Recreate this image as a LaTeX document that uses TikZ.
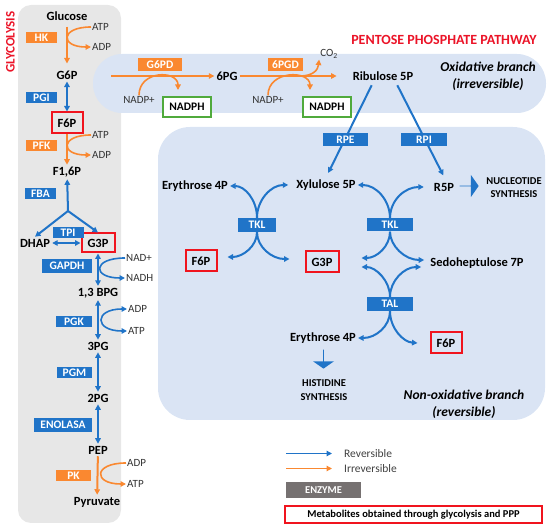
\documentclass[tikz,border=0pt]{standalone}
\usepackage{fontspec}
\setmainfont{Carlito}
\usetikzlibrary{arrows.meta,calc,shapes.arrows}
\definecolor{glyc}{RGB}{231,231,231}
\definecolor{pppbg}{RGB}{218,228,244}
\definecolor{enzblue}{RGB}{32,116,200}
\definecolor{enzorange}{RGB}{250,136,48}
\definecolor{boxred}{RGB}{240,20,30}
\definecolor{titlered}{RGB}{235,20,40}
\definecolor{nadgreen}{RGB}{80,170,60}
\definecolor{legendgray}{RGB}{118,113,113}

\begin{document}
\begin{tikzpicture}[x=1pt,y=-1pt,
    >={Triangle[length=5.5pt,width=5.5pt]},
    met/.style={font={\fontsize{12.5}{13}\selectfont\bfseries},inner sep=2pt},
    cof/.style={font={\fontsize{11}{12}\selectfont},text=black!80,inner sep=1pt,anchor=west},
    enz/.style={fill=enzblue,text=white,font={\fontsize{11.5}{12}\selectfont\bfseries},inner sep=0pt,minimum width=31pt,minimum height=11pt},
    enzo/.style={enz,fill=enzorange},
    obtained/.style={draw=boxred,line width=2pt,minimum width=31pt,minimum height=21pt},
    nadph/.style={draw=nadgreen,fill=white,line width=2pt,inner sep=0pt,minimum width=48pt,minimum height=20pt,font={\fontsize{11.5}{12}\selectfont\bfseries}},
    rev/.style={enzblue,line width=2pt},
    irr/.style={enzorange,line width=2pt},
    side/.style={line width=1.6pt},
    note/.style={align=center,font={\fontsize{10.5}{13.5}\selectfont\bfseries}},
    branch/.style={align=center,font={\fontsize{13.5}{17}\selectfont\bfseries\itshape}}]
      \useasboundingbox (0,0) rectangle (550,529);
      \fill[glyc,rounded corners=13pt] (18,5) rectangle (121,523);
      \fill[pppbg,rounded corners=29pt] (93,54) rectangle (546,113);
      \fill[pppbg,rounded corners=32pt] (158,127) rectangle (545,420);

      \node[rotate=90,text=titlered,font={\fontsize{13}{13}\selectfont\bfseries}] (glytitle) at (10.5,42) {GLYCOLYSIS};
      \node[text=titlered,font={\fontsize{14}{14}\selectfont\bfseries}] (ppptitle) at (444,40) {PENTOSE PHOSPHATE PATHWAY};
      \node[branch] (oxtxt) at (488,76.5) {Oxidative branch\\(irreversible)};
      \node[branch] (nonoxtxt) at (464,404.5) {Non-oxidative branch\\(reversible)};

      \node[met] (glc) at (67,16) {Glucose};
      \node[met] (g6p) at (67,75) {G6P};
      \node[met,obtained] (f6p) at (67,123) {F6P};
      \node[met] (f16bp) at (67,172) {F1,6P};
      \coordinate (fbaj) at (68,211);
      \node[met] (dhap) at (35,243) {DHAP};
      \node[met,obtained,minimum width=33pt,minimum height=19pt] (g3p) at (98,243) {G3P};
      \node[met] (bpg) at (98,293) {1,3 BPG};
      \node[met] (pg3) at (98,346) {3PG};
      \node[met] (pg2) at (98,398) {2PG};
      \node[met] (pep) at (98,450) {PEP};
      \node[met] (pyr) at (97,502) {Pyruvate};

      \node[cof] (atp1) at (91,27) {ATP};
      \node[cof] (adp1) at (91,47) {ADP};
      \node[cof] (atp2) at (91,135) {ATP};
      \node[cof] (adp2) at (91,155) {ADP};
      \node[cof] (nad) at (125,258) {NAD+};
      \node[cof] (nadh) at (125,278) {NADH};
      \node[cof] (adp3) at (127,309) {ADP};
      \node[cof] (atp3) at (127,331) {ATP};
      \node[cof] (adp4) at (126,463) {ADP};
      \node[cof] (atp4) at (126,484) {ATP};

      \draw[irr,->,shorten <=4pt,shorten >=5pt] (glc) -- (g6p);
      \draw[rev,<->] (g6p) -- (f6p);
      \draw[irr,->] (f6p) -- (f16bp);
      \draw[rev,->] (fbaj) -- (f16bp);
      \draw[rev,->] (fbaj) -- (dhap.north);
      \draw[rev,->] (fbaj) -- (g3p.north);
      \draw[rev,<->] (dhap) -- (g3p);
      \draw[rev,<->] (g3p) -- (bpg);
      \draw[rev,<->] (bpg) -- (pg3);
      \draw[rev,<->] (pg3) -- (pg2);
      \draw[rev,<->] (pg2) -- (pep);
      \draw[irr,->] (pep) -- (pyr);

      \draw[irr,side,->] (atp1.west) .. controls (60,27) and (60,47) .. (adp1.west);
      \draw[irr,side,->] (atp2.west) .. controls (60,135) and (60,155) .. (adp2.west);
      \draw[rev,side,->] (nad.west) .. controls (92,258) and (92,278) .. (nadh.west);
      \draw[rev,side,<->] (adp3.west) .. controls (94,309) and (94,331) .. (atp3.west);
      \draw[irr,side,->] (adp4.west) .. controls (93,463) and (93,484) .. (atp4.west);

      \node[enzo] (hk) at (41.5,37.5) {HK};
      \node[enz] (pgi) at (41.5,97.5) {PGI};
      \node[enzo] (pfk) at (41.5,146) {PFK};
      \node[enz] (fba) at (40.5,194) {FBA};
      \node[enz] (tpi) at (68,233) {TPI};
      \node[enz,minimum width=50pt,minimum height=14pt] (gapdh) at (67,266) {GAPDH};
      \node[enz,minimum width=36pt] (pgk) at (74,321.5) {PGK};
      \node[enz,minimum width=35pt] (pgm) at (74.5,373) {PGM};
      \node[enz,minimum width=58pt,minimum height=14pt] (enol) at (63,425) {ENOLASA};
      \node[enzo,minimum width=35pt] (pk) at (73.5,475.5) {PK};

      \coordinate (oxin) at (111,76);
      \coordinate (co2fork) at (300,76);
      \node[met] (pg6) at (227,76) {6PG};
      \node[met] (ru5p) at (383,76) {Ribulose 5P};
      \node[cof,anchor=center] (nadp1) at (139,100) {NADP+};
      \node[nadph] (nadph1) at (187,107) {NADPH};
      \node[cof,anchor=center] (nadp2) at (268,100) {NADP+};
      \node[nadph] (nadph2) at (327,107) {NADPH};
      \node[cof,anchor=center] (co2) at (329,54) {CO\textsubscript{2}};
      \draw[irr,->] (oxin) -- (pg6);
      \draw[irr,->,shorten >=14pt] (pg6) -- (ru5p);
      \draw[irr,side,->] (co2fork) .. controls (313,76) and (318,70) .. (co2.south west);
      \draw[irr,side,->] (nadp1.north) .. controls (139,70) and (178,70) .. ($(nadph1.north)+(-9,-6)$);
      \draw[irr,side,->] (nadp2.north) .. controls (268,70) and (310,70) .. ($(nadph2.north)+(-17,-6)$);
      \node[enzo,minimum width=44pt,minimum height=13pt] (g6pd) at (160,64.5) {G6PD};
      \node[enzo,minimum width=35pt,minimum height=13pt] (pgd6) at (285.5,64.5) {6PGD};

      \node[met] (xu5p) at (326,185) {Xylulose 5P};
      \node[met] (ery1) at (195,186) {Erythrose 4P};
      \node[met] (r5p) at (444,187) {R5P};
      \node[met,obtained] (f6pa) at (201,261) {F6P};
      \node[met,obtained,minimum width=33pt] (g3pb) at (322,262) {G3P};
      \node[met] (s7p) at (477,263) {Sedoheptulose 7P};
      \node[met] (ery2) at (323,338) {Erythrose 4P};
      \node[met,obtained] (f6pb) at (446,343) {F6P};
      \node[single arrow,fill=enzblue,minimum height=19pt,minimum width=22pt,single arrow head extend=5pt,single arrow tip angle=110,inner sep=0pt] (nucarrow) at (469,186) {};
      \node[note] (nuc) at (514,187.5) {NUCLEOTIDE\\SYNTHESIS};
      \node[single arrow,fill=enzblue,minimum height=19pt,minimum width=21pt,single arrow head extend=5pt,single arrow tip angle=110,inner sep=0pt,shape border rotate=270] (hisarrow) at (323.5,359) {};
      \node[note] (his) at (324,390) {HISTIDINE\\SYNTHESIS};

      \draw[rev,->,shorten <=3pt,shorten >=5pt] ([xshift=-10pt]ru5p.south) -- (xu5p.north);
      \draw[rev,->,shorten <=3pt,shorten >=6pt] ([xshift=13pt]ru5p.south) -- ([xshift=2pt]r5p.north);
      \node[enz,minimum width=45pt,minimum height=13pt] (rpe) at (345.5,139.5) {RPE};
      \node[enz,minimum width=46pt,minimum height=13pt] (rpi) at (424,139.5) {RPI};

      \node[enz,minimum width=38pt,minimum height=14pt] (tkl1) at (257,225) {TKL};
      \node[enz,minimum width=46pt,minimum height=13pt] (tkl2) at (390,225) {TKL};
      \node[enz,minimum width=46pt,minimum height=14pt] (tal) at (390,304) {TAL};
      \draw[rev,->] (tkl1.north) .. controls (257,200) and (245,186) .. (ery1.east);
      \draw[rev,->,shorten >=6pt] (tkl1.north) .. controls (257,200) and (271,185) .. (xu5p.west);
      \draw[rev,->] (tkl1.south) .. controls (257,246) and (243,257) .. ($(f6pa.east)+(10,-4)$);
      \draw[rev,->] (tkl1.south) .. controls (257,247) and (272,259) .. ($(g3pb.west)+(-15,-3)$);
      \draw[rev,->] (tkl2.north) .. controls (390,200) and (376,185) .. (xu5p.east);
      \draw[rev,->] (tkl2.north) .. controls (390,200) and (405,187) .. ($(r5p.west)+(-8,0)$);
      \draw[rev,->] (tkl2.south) .. controls (390,246) and (377,258) .. ($(g3pb.east)+(22,-4)$);
      \draw[rev,->] (tkl2.south) .. controls (390,246) and (405,260) .. ($(s7p.west)+(-4,-3)$);
      \draw[rev,->] (tal.north) .. controls (390,281) and (376,267) .. ($(g3pb.east)+(22,5)$);
      \draw[rev,->] (tal.north) .. controls (390,281) and (404,267) .. ($(s7p.west)+(-7,4)$);
      \draw[rev,->] (tal.south) .. controls (390,326) and (376,338) .. (ery2.east);
      \draw[rev,->] (tal.south) .. controls (390,328) and (403,342) .. ($(f6pb.west)+(-12,0)$);

      \coordinate (lgrev) at (286,453.5);
      \coordinate (lgirr) at (286,468.5);
      \node[cof,font={\fontsize{11.5}{13}\selectfont},text=black!75] (revtxt) at (343,453.5) {Reversible};
      \node[cof,font={\fontsize{11.5}{13}\selectfont},text=black!75] (irrtxt) at (343,468.5) {Irreversible};
      \draw[rev,line width=1.3pt,->,shorten >=11pt] (lgrev) -- (revtxt.west);
      \draw[irr,line width=1.3pt,->,shorten >=11pt] (lgirr) -- (irrtxt.west);
      \node[fill=legendgray,text=white,font={\fontsize{10.5}{11}\selectfont\bfseries},minimum width=75pt,minimum height=16pt,inner sep=0pt] (enzkey) at (323.5,490) {ENZYME};
      \node[draw=boxred,line width=1.8pt,minimum width=257pt,minimum height=17pt,inner sep=0pt,font={\fontsize{10.5}{11}\selectfont\bfseries}] (obtkey) at (413.5,514.5) {Metabolites obtained through glycolysis and PPP};
\end{tikzpicture}
\end{document}
